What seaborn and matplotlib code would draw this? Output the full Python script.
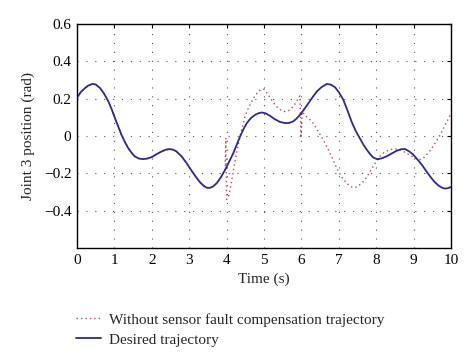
import matplotlib
matplotlib.use("Agg")
import matplotlib.pyplot as plt
from matplotlib.lines import Line2D
import seaborn as sns
import pandas as pd

# Desired trajectory
t_desired = [0.0, 0.1, 0.21, 0.3, 0.41, 0.5, 0.62, 0.72, 0.84, 0.92, 1.0, 1.1, 1.19, 1.28,
             1.37, 1.46, 1.55, 1.66, 1.77, 1.88, 2.0, 2.13, 2.26, 2.38, 2.49, 2.58, 2.66,
             2.8, 2.93, 3.06, 3.2, 3.29, 3.38, 3.46, 3.54, 3.64, 3.74, 3.85, 3.96, 4.07,
             4.18, 4.27, 4.36, 4.45, 4.54, 4.65, 4.76, 4.85, 4.94, 5.05, 5.16, 5.29, 5.42,
             5.56, 5.67, 5.78, 5.87, 5.96, 6.08, 6.19, 6.3, 6.41, 6.54, 6.68, 6.79, 6.9,
             7.01, 7.12, 7.23, 7.34, 7.45, 7.57, 7.66, 7.75, 7.84, 7.92, 8.0, 8.06, 8.17,
             8.28, 8.42, 8.55, 8.66, 8.77, 8.88, 8.99, 9.1, 9.22, 9.33, 9.44, 9.55, 9.67,
             9.76, 9.84, 9.92, 10.0]
v_desired = [0.205, 0.235, 0.256, 0.27, 0.279, 0.276, 0.256, 0.228, 0.185, 0.147, 0.104,
             0.052, 0.006, -0.032, -0.065, -0.09, -0.11, -0.121, -0.124, -0.121, -0.113,
             -0.097, -0.083, -0.073, -0.07, -0.074, -0.083, -0.11, -0.145, -0.185, -0.225,
             -0.248, -0.266, -0.276, -0.279, -0.27, -0.252, -0.22, -0.181, -0.137, -0.092,
             -0.047, -0.003, 0.036, 0.069, 0.096, 0.113, 0.122, 0.126, 0.121, 0.108, 0.09,
             0.076, 0.069, 0.07, 0.078, 0.093, 0.113, 0.145, 0.176, 0.208, 0.238, 0.262,
             0.279, 0.275, 0.261, 0.232, 0.194, 0.138, 0.078, 0.028, -0.015, -0.047,
             -0.074, -0.098, -0.115, -0.122, -0.124, -0.118, -0.109, -0.093, -0.079,
             -0.071, -0.07, -0.082, -0.1, -0.125, -0.154, -0.186, -0.216, -0.244, -0.266,
             -0.277, -0.282, -0.279, -0.273]

# Trajectory without sensor fault compensation (equals desired before t=4)
t_fault_after = [3.98, 4.0, 4.05, 4.1, 4.14, 4.23, 4.3, 4.36, 4.43, 4.49, 4.58, 4.67, 4.76,
                 4.85, 4.93, 5.0, 5.1, 5.2, 5.29, 5.38, 5.47, 5.56, 5.65, 5.74, 5.83, 5.92,
                 5.96, 5.99, 6.02, 6.1, 6.2, 6.28, 6.36, 6.45, 6.54, 6.63, 6.72, 6.81, 6.9,
                 6.99, 7.08, 7.17, 7.26, 7.36, 7.45, 7.53, 7.62, 7.7, 7.81, 7.92, 8.01, 8.1,
                 8.2, 8.32, 8.44, 8.55, 8.66, 8.77, 8.88, 8.99, 9.08, 9.17, 9.26, 9.35, 9.44,
                 9.53, 9.62, 9.71, 9.78, 9.84, 9.92, 10.0]
v_fault_after = [-0.01, -0.34, -0.323, -0.28, -0.234, -0.127, -0.06, 0.0, 0.055, 0.104,
                 0.148, 0.185, 0.215, 0.239, 0.25, 0.25, 0.225, 0.194, 0.168, 0.149, 0.136,
                 0.131, 0.135, 0.149, 0.172, 0.203, 0.215, -0.01, 0.13, 0.11, 0.093, 0.078,
                 0.055, 0.024, -0.006, -0.038, -0.073, -0.11, -0.152, -0.19, -0.22, -0.243,
                 -0.262, -0.275, -0.275, -0.266, -0.252, -0.234, -0.2, -0.163, -0.134,
                 -0.109, -0.09, -0.077, -0.07, -0.07, -0.077, -0.087, -0.1, -0.113, -0.122,
                 -0.127, -0.118, -0.1, -0.078, -0.052, -0.024, 0.006, 0.032, 0.059, 0.088,
                 0.12]

x_ticks = [0, 1, 2, 3, 4, 5, 6, 7, 8, 9, 10]
y_ticks = [-0.4, -0.2, 0, 0.2, 0.4, 0.6]
y_ticklabels = ["\u22120.4", "\u22120.2", "0", "0.2", "0.4", "0.6"]
label_fault = "Without sensor fault compensation trajectory"
label_desired = "Desired trajectory"

sns.set_style("white")
plt.rcParams['font.family'] = ['Liberation Serif', 'DejaVu Serif']

fig = plt.figure(figsize=(4.74, 3.64), dpi=100)
ax = fig.add_axes([77/474, 1 - 248/364, (451 - 77)/474, (248 - 24)/364])

red = "#B5495B"
blue = "#2E2A8C"
fault_style = (0, (1, 2.2))

before = [i for i, t in enumerate(t_desired) if t <= 3.96]
t_fault = [t_desired[i] for i in before] + t_fault_after
v_fault = [v_desired[i] for i in before] + v_fault_after

df_f = pd.DataFrame({"t": t_fault, "v": v_fault})
df_d = pd.DataFrame({"t": t_desired, "v": v_desired})
sns.lineplot(data=df_f, x="t", y="v", ax=ax, color=red, linewidth=1.0, sort=False,
             estimator=None, linestyle=fault_style)
sns.lineplot(data=df_d, x="t", y="v", ax=ax, color=blue, linewidth=1.3, sort=False,
             estimator=None)

ax.set_xlim(0, 10)
ax.set_ylim(-0.6, 0.6)
ax.set_xticks(x_ticks)
ax.set_xticklabels([str(x) for x in x_ticks])
ax.set_yticks(y_ticks)
ax.set_yticklabels(y_ticklabels)
ax.grid(True, color="#555555", linestyle=(0, (1, 7)), linewidth=0.8)
ax.tick_params(direction="in", length=3, width=0.8, labelsize=11, colors="black",
               top=True, right=True, pad=4)
for s in ax.spines.values():
    s.set_color("black")
    s.set_linewidth(1.0)
ax.set_xlabel("Time (s)", fontsize=11, labelpad=4)
ax.set_ylabel("Joint 3 position (rad)", fontsize=11, labelpad=6)

handles = [Line2D([], [], color=red, linewidth=1.0, linestyle=fault_style),
           Line2D([], [], color=blue, linewidth=1.3)]
fig.legend(handles, [label_fault, label_desired], loc="upper left",
           bbox_to_anchor=(76/474, 1 - 313/364), frameon=False, fontsize=11,
           handlelength=1.65, handletextpad=0.5, labelspacing=0.4, borderaxespad=0,
           borderpad=0)

fig.savefig("out.png", dpi=100)
